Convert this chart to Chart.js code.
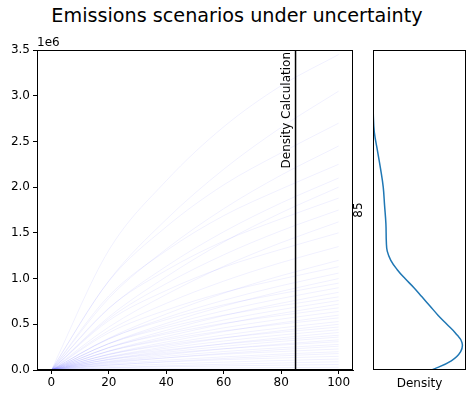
<!DOCTYPE html>
<html>
<head>
<meta charset="utf-8">
<script src="https://cdn.jsdelivr.net/npm/chart.js@4.4.0/dist/chart.umd.min.js"></script>
<style>
  body { margin: 0; background: #fff; }
  #wrap { position: relative; width: 474px; height: 400px; }
  #title { position: absolute; left: 0; top: 5px; width: 474px; text-align: center;
           font-family: "DejaVu Sans"; font-size: 19.2px; line-height: 22px; color: #000; }
  #main { position: absolute; left: 0; top: 0; }
  #side { position: absolute; left: 345px; top: 0; }
</style>
</head>
<body>
<div id="wrap">
  <div id="title">Emissions scenarios under uncertainty</div>
  <canvas id="main" width="360" height="400"></canvas>
  <canvas id="side" width="129" height="400"></canvas>
</div>
<script>
// years sampled for each scenario (x axis)
const years = [0, 20, 40, 60, 80, 100];
const xTicks = [0, 20, 40, 60, 80, 100];
const yTicks = [0, 0.5, 1.0, 1.5, 2.0, 2.5, 3.0, 3.5];

// emissions per scenario, in units of 1e6, read at the years above
const scenarios = [
  [0, 0.010, 0.016, 0.022, 0.026, 0.03],
  [0, 0.022, 0.035, 0.045, 0.053, 0.06],
  [0, 0.026, 0.046, 0.063, 0.077, 0.09],
  [0, 0.038, 0.065, 0.086, 0.104, 0.12],
  [0, 0.054, 0.087, 0.113, 0.132, 0.15],
  [0, 0.052, 0.092, 0.126, 0.155, 0.18],
  [0, 0.064, 0.108, 0.144, 0.174, 0.20],
  [0, 0.083, 0.133, 0.173, 0.202, 0.23],
  [0, 0.075, 0.133, 0.182, 0.224, 0.26],
  [0, 0.090, 0.151, 0.202, 0.244, 0.28],
  [0, 0.112, 0.180, 0.233, 0.273, 0.31],
  [0, 0.096, 0.168, 0.231, 0.284, 0.33],
  [0, 0.115, 0.194, 0.259, 0.313, 0.36],
  [0, 0.137, 0.220, 0.285, 0.334, 0.38],
  [0, 0.119, 0.209, 0.287, 0.353, 0.41],
  [0, 0.141, 0.238, 0.317, 0.383, 0.44],
  [0, 0.169, 0.273, 0.353, 0.414, 0.47],
  [0, 0.145, 0.255, 0.350, 0.430, 0.50],
  [0, 0.170, 0.286, 0.382, 0.461, 0.53],
  [0, 0.205, 0.331, 0.428, 0.502, 0.57],
  [0, 0.174, 0.306, 0.420, 0.516, 0.60],
  [0, 0.205, 0.346, 0.461, 0.557, 0.64],
  [0, 0.245, 0.394, 0.510, 0.598, 0.68],
  [0, 0.209, 0.367, 0.504, 0.619, 0.72],
  [0, 0.243, 0.410, 0.547, 0.661, 0.76],
  [0, 0.288, 0.464, 0.600, 0.704, 0.80],
  [0, 0.247, 0.434, 0.595, 0.731, 0.85],
  [0, 0.288, 0.486, 0.648, 0.783, 0.90],
  [0, 0.342, 0.551, 0.713, 0.836, 0.95],
  [0, 0.290, 0.510, 0.700, 0.860, 1.00],
  [0, 0.339, 0.572, 0.763, 0.922, 1.06],
  [0, 0.407, 0.655, 0.848, 0.994, 1.13],
  [0, 0.348, 0.612, 0.840, 1.032, 1.20],
  [0, 0.432, 0.729, 0.972, 1.175, 1.35],
  [0, 0.540, 0.870, 1.125, 1.320, 1.50],
  [0, 0.470, 0.826, 1.134, 1.393, 1.62],
  [0, 0.560, 0.945, 1.260, 1.523, 1.75],
  [0, 0.677, 1.090, 1.410, 1.654, 1.88],
  [0, 0.580, 1.020, 1.400, 1.720, 2.00],
  [0, 0.672, 1.134, 1.512, 1.827, 2.10],
  [0, 0.810, 1.305, 1.688, 1.980, 2.25],
  [0, 0.784, 1.323, 1.764, 2.132, 2.45],
  [0, 0.972, 1.566, 2.025, 2.376, 2.70],
  [0, 0.976, 1.647, 2.196, 2.654, 3.05],
  [0, 1.310, 2.070, 2.660, 3.110, 3.45]
];

// year where the density is taken
const cutYear = 85;

// density of emissions at cutYear (levels in 1e6, density scaled to peak = 1)
const densityLevels = [0, 0.1, 0.2, 0.3, 0.4, 0.5, 0.6, 0.7, 0.8, 0.9, 1.0, 1.1, 1.2,
                       1.3, 1.4, 1.6, 1.8, 2.0, 2.2, 2.4, 2.6, 2.8, 3.0, 3.5];
const densityValues = [0.66, 0.88, 0.985, 1.0, 0.93, 0.83, 0.73, 0.64, 0.55, 0.46, 0.36, 0.27, 0.2,
                       0.16, 0.15, 0.145, 0.13, 0.115, 0.085, 0.05, 0.015, 0.003, 0, 0];

const FONT = 'DejaVu Sans';
const FS = 12;

const frame = {
  id: 'frame',
  afterDraw(chart) {
    const { ctx, chartArea: a } = chart;
    ctx.save();
    ctx.strokeStyle = '#000';
    ctx.lineWidth = 1;
    ctx.strokeRect(a.left + 0.5, a.top + 0.5, a.right - a.left - 1, a.bottom - a.top - 1);
    ctx.restore();
  }
};

const mainLabels = {
  id: 'mainLabels',
  afterDraw(chart) {
    const { ctx, chartArea: a, scales } = chart;
    ctx.save();
    ctx.fillStyle = '#000';
    ctx.font = FS + 'px "' + FONT + '"';
    ctx.textAlign = 'left';
    ctx.textBaseline = 'bottom';
    ctx.fillText('1e6', a.left, a.top - 1);

    const lx = scales.x.getPixelForValue(cutYear);
    ctx.translate(lx - 3, a.top + 2);
    ctx.rotate(-Math.PI / 2);
    ctx.textAlign = 'right';
    ctx.textBaseline = 'bottom';
    ctx.fillText('Density Calculation', 0, 0);
    ctx.restore();
  }
};

const sideLabels = {
  id: 'sideLabels',
  afterDraw(chart) {
    const { ctx, chartArea: a } = chart;
    ctx.save();
    ctx.fillStyle = '#000';
    ctx.font = FS + 'px "' + FONT + '"';
    ctx.textAlign = 'center';
    ctx.textBaseline = 'middle';
    ctx.fillText('Density', (a.left + a.right) / 2, a.bottom + 14);
    ctx.translate(a.left - 14, (a.top + a.bottom) / 2);
    ctx.rotate(-Math.PI / 2);
    ctx.fillText('85', 0, 0);
    ctx.restore();
  }
};

const scenarioSets = scenarios.map(row => ({
  data: years.map((x, i) => ({ x: x, y: row[i] })),
  borderColor: 'rgba(0, 0, 255, 0.06)',
  borderWidth: 1,
  pointRadius: 0,
  cubicInterpolationMode: 'monotone'
}));

const cutLine = {
  data: [{ x: cutYear, y: 0 }, { x: cutYear, y: 3.5 }],
  borderColor: '#000',
  borderWidth: 1.5,
  pointRadius: 0
};

const tickFont = { family: FONT, size: FS };

new Chart(document.getElementById('main'), {
  type: 'scatter',
  data: { datasets: [...scenarioSets, cutLine] },
  options: {
    responsive: false,
    animation: false,
    showLine: true,
    layout: { padding: { top: 50, right: 7, left: 0, bottom: 0 } },
    plugins: { legend: { display: false }, tooltip: { enabled: false } },
    scales: {
      x: {
        type: 'linear', min: -5, max: 105,
        afterBuildTicks: s => { s.ticks = xTicks.map(v => ({ value: v })); },
        afterFit: s => { s.height = 30; },
        grid: { drawOnChartArea: false, tickLength: 4, color: '#000' },
        border: { color: '#000' },
        ticks: { color: '#000', font: tickFont, padding: 2, maxRotation: 0 }
      },
      y: {
        type: 'linear', min: 0, max: 3.5,
        afterBuildTicks: s => { s.ticks = yTicks.map(v => ({ value: v })); },
        afterFit: s => { s.width = 37; },
        grid: { drawOnChartArea: false, tickLength: 4, color: '#000' },
        border: { color: '#000' },
        ticks: { color: '#000', font: tickFont, padding: 3, callback: v => v.toFixed(1) }
      }
    }
  },
  plugins: [frame, mainLabels]
});

new Chart(document.getElementById('side'), {
  type: 'scatter',
  data: {
    datasets: [{
      data: densityLevels.map((lv, i) => ({ x: densityValues[i], y: lv })),
      borderColor: '#1f77b4',
      borderWidth: 1.5,
      pointRadius: 0,
      tension: 0.4
    }]
  },
  options: {
    responsive: false,
    animation: false,
    showLine: true,
    layout: { padding: { top: 50, right: 8, left: 28, bottom: 30 } },
    plugins: { legend: { display: false }, tooltip: { enabled: false } },
    scales: {
      x: { type: 'linear', min: 0, max: 1.045, display: false },
      y: { type: 'linear', min: 0, max: 3.5, display: false }
    }
  },
  plugins: [frame, sideLabels]
});
</script>
</body>
</html>
